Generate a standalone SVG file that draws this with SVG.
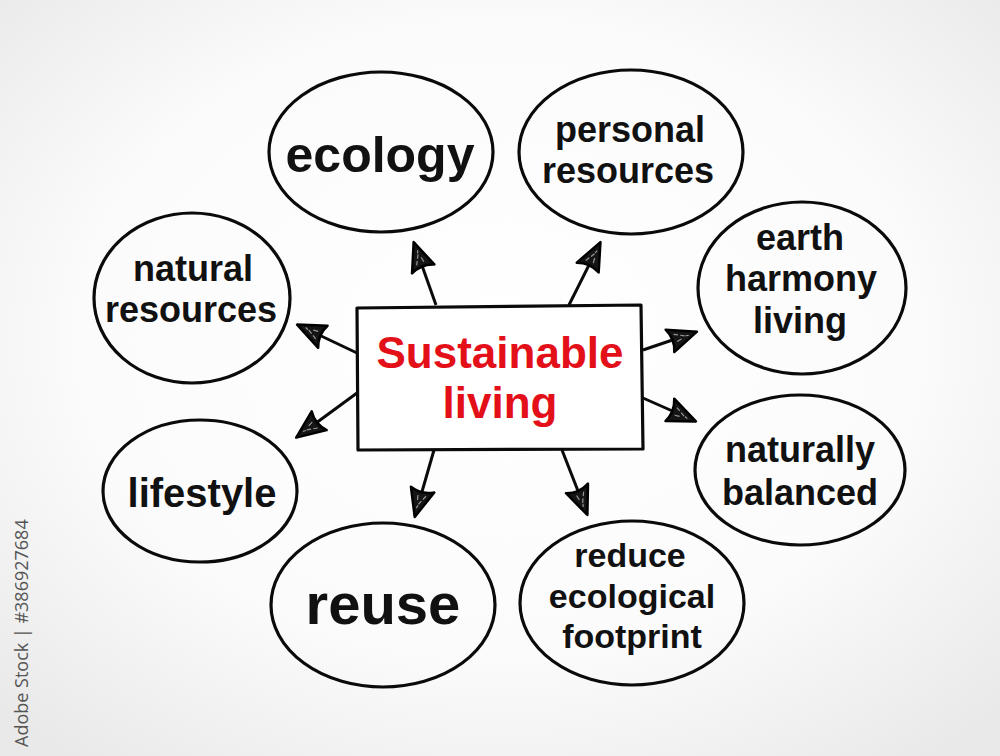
<svg xmlns="http://www.w3.org/2000/svg" width="1000" height="756" viewBox="0 0 1000 756">
<defs>
<radialGradient id="bg" cx="50%" cy="45%" r="70%">
<stop offset="0" stop-color="#ffffff"/>
<stop offset="0.6" stop-color="#fbfbfb"/>
<stop offset="1" stop-color="#e9e9e9"/>
</radialGradient>
<marker id="ah" markerWidth="34" markerHeight="30" refX="30" refY="15" orient="auto" markerUnits="userSpaceOnUse">
<path d="M2,3 L31,15 L3,27 Q8,15 2,3 Z" fill="#151515" stroke="#000" stroke-width="2.5" stroke-linejoin="round"/>
<path d="M8,10 l4,2 M9,18 l5,-1 M14,13 l4,2 M19,15 l3,1" stroke="#fff" stroke-width="1.2" opacity="0.55"/>
</marker>
<style>
.bub{fill:none;stroke:#0a0a0a;stroke-width:3.2}
.t{font-family:"Liberation Sans",Arial,sans-serif;font-weight:bold;fill:#111;text-anchor:middle}
.red{fill:#e3101a}
.c{stroke:#0a0a0a;stroke-width:3;fill:none;marker-end:url(#ah)}
</style>
</defs>
<rect width="1000" height="756" fill="url(#bg)"/>
<text transform="translate(28,747) rotate(-90)" font-family="Open Sans, Liberation Sans, sans-serif" font-size="18" fill="#555">Adobe Stock | #386927684</text>

<g id="connectors">
<line class="c" x1="436" y1="305" x2="414" y2="243"/>
<line class="c" x1="569" y1="305" x2="600" y2="243"/>
<line class="c" x1="357" y1="353" x2="298" y2="325"/>
<line class="c" x1="357" y1="393" x2="297" y2="437"/>
<line class="c" x1="643" y1="350" x2="696" y2="332"/>
<line class="c" x1="643" y1="398" x2="695" y2="421"/>
<line class="c" x1="434" y1="450" x2="415" y2="516"/>
<line class="c" x1="562" y1="450" x2="587" y2="514"/>
</g>

<g id="center">
<path d="M357,308 L641,305 L643,449 L358,450 Z" fill="#fff" stroke="#0a0a0a" stroke-width="3.2" stroke-linejoin="round"/>
<text class="t red" x="500" y="368" font-size="44">Sustainable</text>
<text class="t red" x="500" y="418" font-size="44">living</text>
</g>

<g id="ecology">
<ellipse class="bub" cx="381" cy="152" rx="112" ry="80"/>
<text class="t" x="380" y="172" font-size="50">ecology</text>
</g>

<g id="personal-resources">
<ellipse class="bub" cx="631" cy="152" rx="112" ry="82"/>
<text class="t" x="630" y="142" font-size="36">personal</text>
<text class="t" x="628" y="183" font-size="36">resources</text>
</g>

<g id="natural-resources">
<ellipse class="bub" cx="192" cy="298" rx="98" ry="85"/>
<text class="t" x="193" y="281" font-size="36">natural</text>
<text class="t" x="191" y="322" font-size="36">resources</text>
</g>

<g id="earth-harmony-living">
<ellipse class="bub" cx="802" cy="288" rx="104" ry="86"/>
<text class="t" x="800" y="250" font-size="36">earth</text>
<text class="t" x="801" y="291" font-size="36">harmony</text>
<text class="t" x="800" y="333" font-size="36">living</text>
</g>

<g id="lifestyle">
<ellipse class="bub" cx="200" cy="491" rx="97" ry="71"/>
<text class="t" x="202" y="507" font-size="40">lifestyle</text>
</g>

<g id="naturally-balanced">
<ellipse class="bub" cx="800" cy="470" rx="105" ry="75"/>
<text class="t" x="800" y="462" font-size="36">naturally</text>
<text class="t" x="800" y="505" font-size="36">balanced</text>
</g>

<g id="reuse">
<ellipse class="bub" cx="383" cy="605" rx="112" ry="82"/>
<text class="t" x="383" y="624" font-size="58">reuse</text>
</g>

<g id="reduce-ecological-footprint">
<ellipse class="bub" cx="632" cy="603" rx="112" ry="82"/>
<text class="t" x="630" y="567" font-size="34">reduce</text>
<text class="t" x="632" y="608" font-size="34">ecological</text>
<text class="t" x="632" y="648" font-size="34">footprint</text>
</g>
</svg>
